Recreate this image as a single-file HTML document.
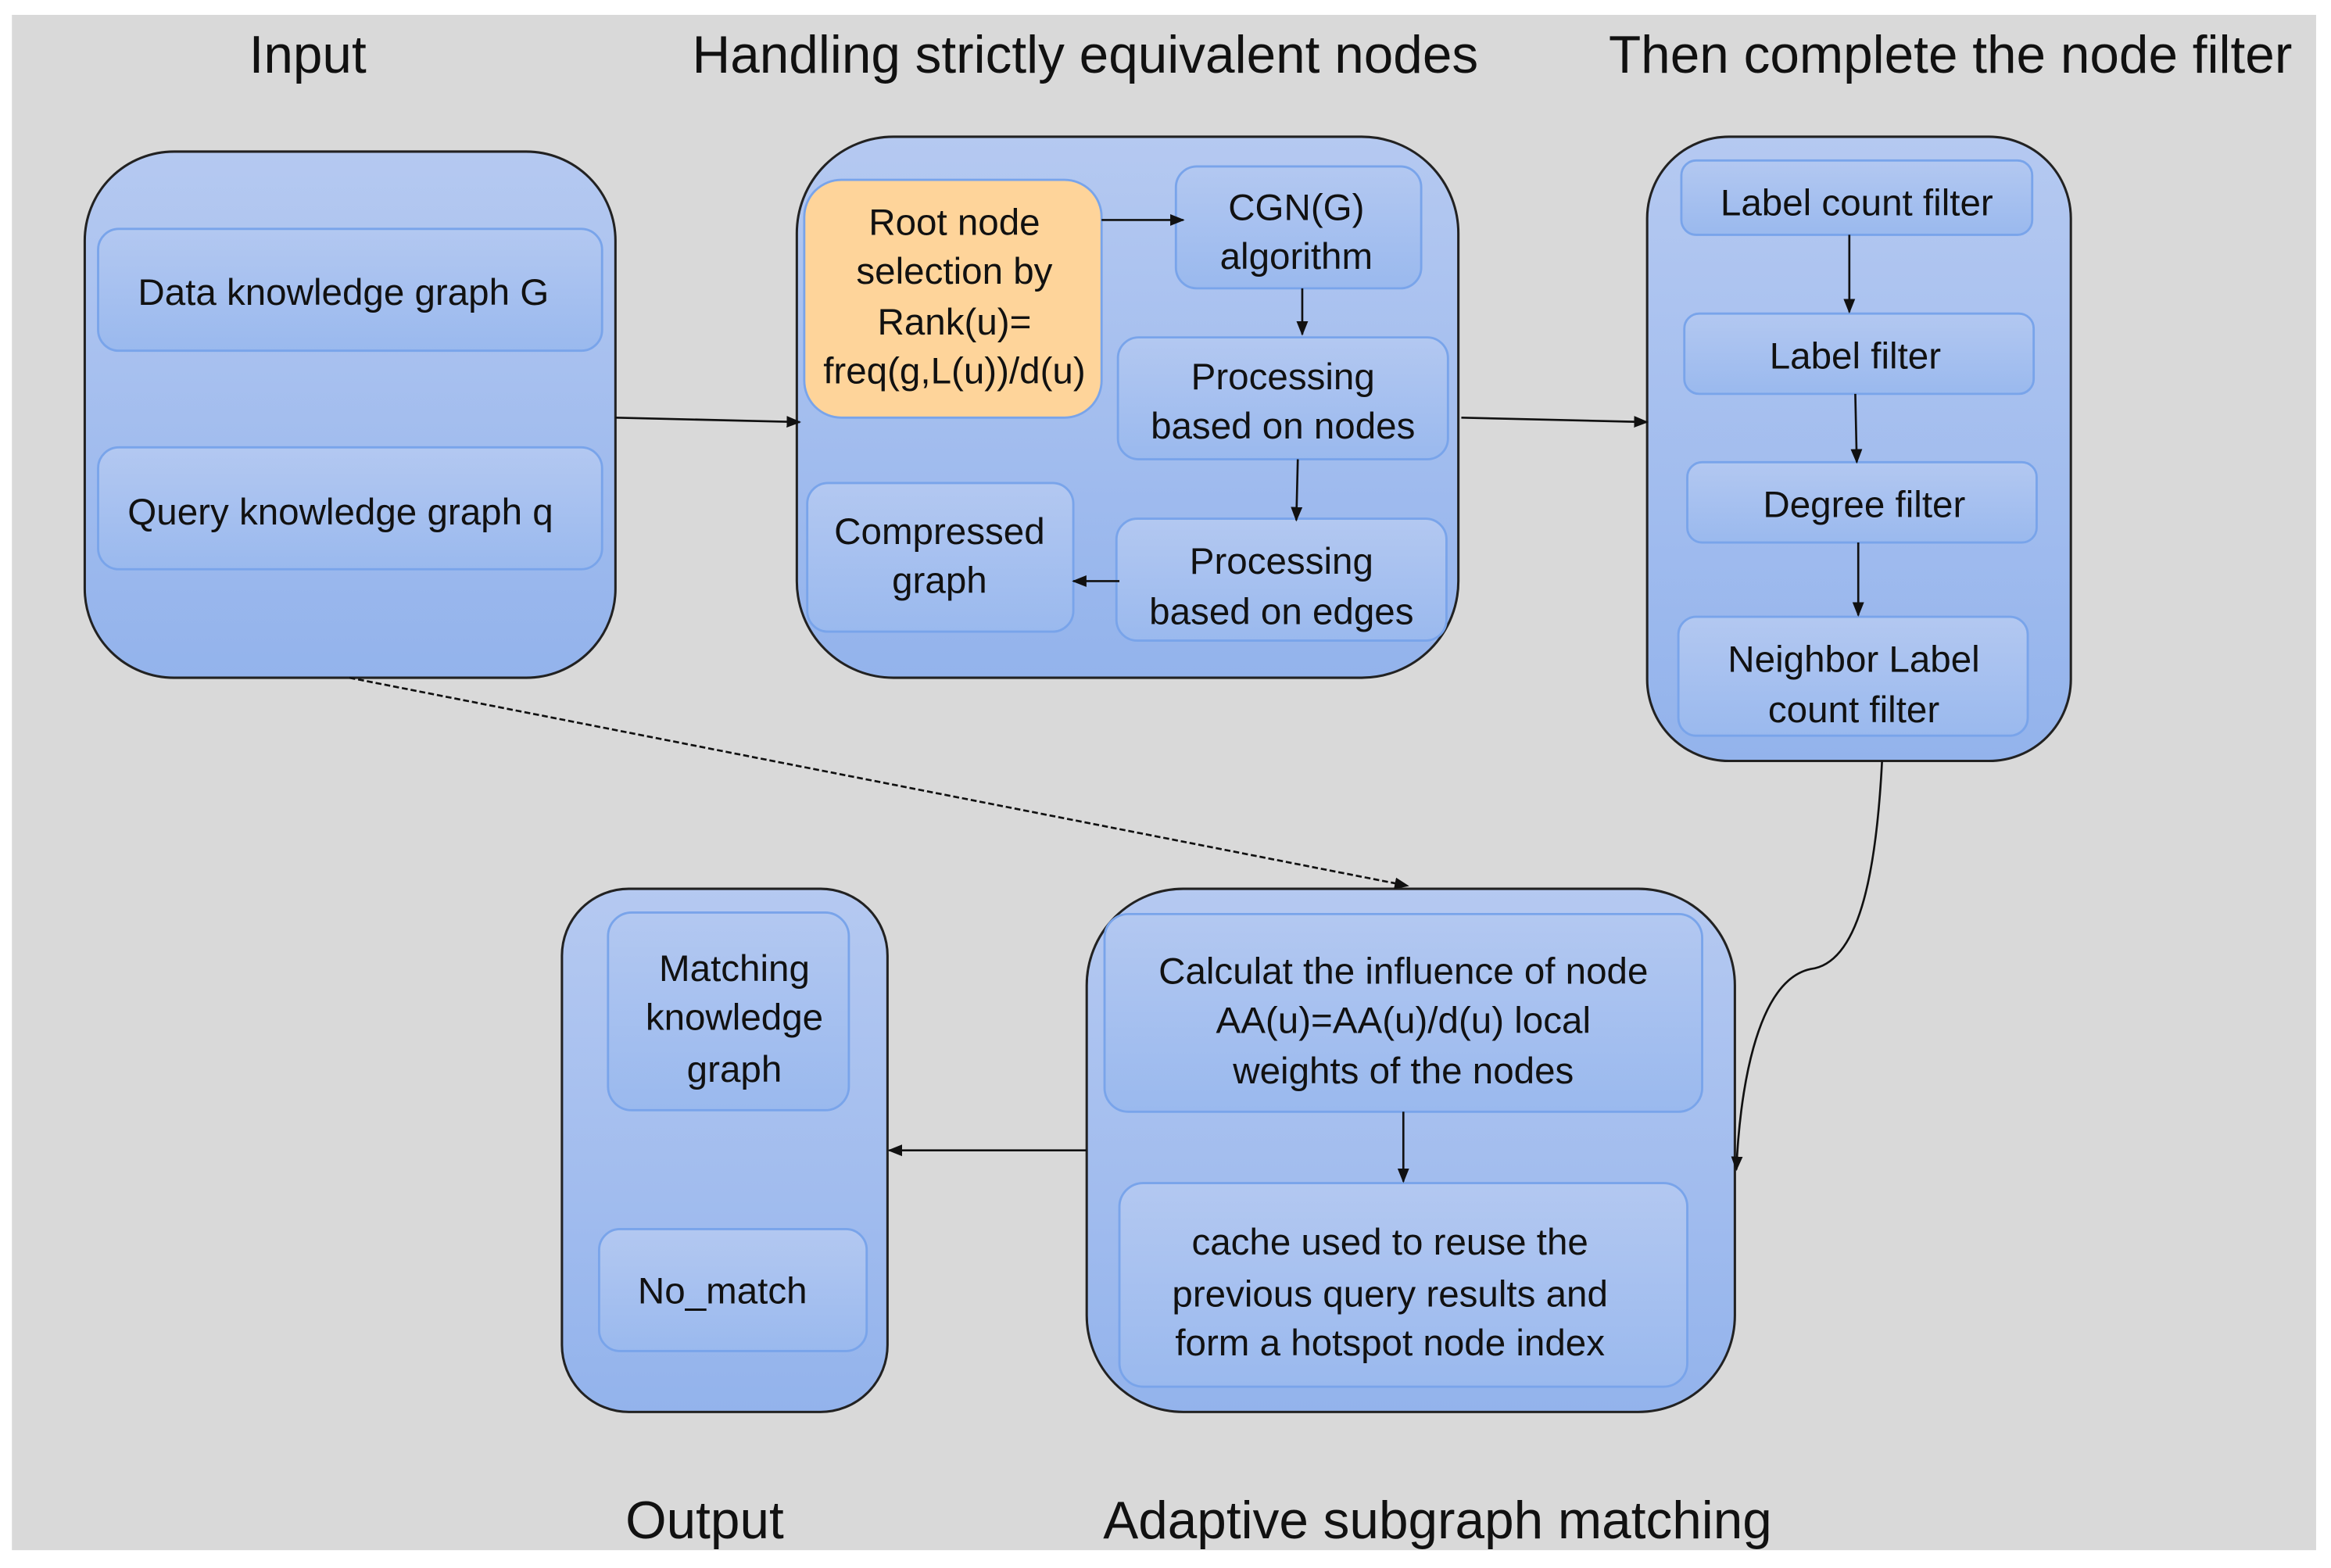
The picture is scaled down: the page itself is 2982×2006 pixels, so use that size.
<!DOCTYPE html>
<html><head><meta charset="utf-8"><style>
html,body{margin:0;padding:0;background:#fff;}
svg{display:block;}
text{font-family:"Liberation Sans",sans-serif;fill:#111;}
.t{font-size:35.5px;text-anchor:middle;}
.s{font-size:25px;text-anchor:middle;}
</style></head><body>
<svg width="2982" height="2006" viewBox="0 0 1568 1055" preserveAspectRatio="none" xmlns="http://www.w3.org/2000/svg">
<defs>
<linearGradient id="g" x1="0" y1="0" x2="0" y2="1"><stop offset="0" stop-color="#b5c9f1"/><stop offset="1" stop-color="#93b3ec"/></linearGradient>
<linearGradient id="gi" x1="0" y1="0" x2="0" y2="1"><stop offset="0" stop-color="#b3c8f1"/><stop offset="1" stop-color="#9ab9ee"/></linearGradient>
<marker id="a" viewBox="0 0 10 10" refX="9" refY="5" markerWidth="7" markerHeight="7" orient="auto"><path d="M0,1 L10,5 L0,9 z" fill="#111"/></marker>
</defs>
<rect x="8" y="10" width="1550" height="1033" fill="#d9d9d9"/>
<text class="t" x="207" y="49">Input</text>
<text class="t" x="730" y="49">Handling strictly equivalent nodes</text>
<text class="t" x="1312" y="49">Then complete the node filter</text>
<text class="t" x="474" y="1035">Output</text>
<text class="t" x="967" y="1035">Adaptive subgraph matching</text>

<g stroke="#222" stroke-width="1.6" fill="url(#g)">
<rect x="57" y="102" width="357" height="354" rx="60"/>
<rect x="536" y="92" width="445" height="364" rx="65"/>
<rect x="1108" y="92" width="285" height="420" rx="55"/>
<rect x="731" y="598" width="436" height="352" rx="65"/>
<rect x="378" y="598" width="219" height="352" rx="45"/>
</g>
<g stroke="#79a4ea" stroke-width="1.5" fill="url(#gi)">
<rect x="66" y="154" width="339" height="82" rx="14"/>
<rect x="66" y="301" width="339" height="82" rx="14"/>
<rect x="791" y="112" width="165" height="82" rx="14"/>
<rect x="752" y="227" width="222" height="82" rx="14"/>
<rect x="543" y="325" width="179" height="100" rx="14"/>
<rect x="751" y="349" width="222" height="82" rx="14"/>
<rect x="1131" y="108" width="236" height="50" rx="10"/>
<rect x="1133" y="211" width="235" height="54" rx="10"/>
<rect x="1135" y="311" width="235" height="54" rx="10"/>
<rect x="1129" y="415" width="235" height="80" rx="12"/>
<rect x="743" y="615" width="402" height="133" rx="16"/>
<rect x="753" y="796" width="382" height="137" rx="16"/>
<rect x="409" y="614" width="162" height="133" rx="16"/>
<rect x="403" y="827" width="180" height="82" rx="14"/>
</g>
<rect x="541" y="121" width="200" height="160" rx="25" fill="#fed49a" stroke="#79a4ea" stroke-width="1.5"/>

<g>
<text class="s" x="231" y="205">Data knowledge graph G</text>
<text class="s" x="229" y="353">Query knowledge graph q</text>
<text class="s" x="642" y="158">Root node</text>
<text class="s" x="642" y="191">selection by</text>
<text class="s" x="642" y="225">Rank(u)=</text>
<text class="s" x="642" y="258">freq(g,L(u))/d(u)</text>
<text class="s" x="872" y="148">CGN(G)</text>
<text class="s" x="872" y="181">algorithm</text>
<text class="s" x="863" y="262">Processing</text>
<text class="s" x="863" y="295">based on nodes</text>
<text class="s" x="632" y="366">Compressed</text>
<text class="s" x="632" y="399">graph</text>
<text class="s" x="862" y="386">Processing</text>
<text class="s" x="862" y="420">based on edges</text>
<text class="s" x="1249" y="145">Label count filter</text>
<text class="s" x="1248" y="248">Label  filter</text>
<text class="s" x="1254" y="348">Degree filter</text>
<text class="s" x="1247" y="452">Neighbor Label</text>
<text class="s" x="1247" y="486">count filter</text>
<text class="s" x="944" y="662">Calculat the  influence of  node</text>
<text class="s" x="944" y="695">AA(u)=AA(u)/d(u)  local</text>
<text class="s" x="944" y="729">weights of the nodes</text>
<text class="s" x="935" y="844">cache used to reuse the</text>
<text class="s" x="935" y="879">previous query results and</text>
<text class="s" x="935" y="912">form a hotspot node index</text>
<text class="s" x="494" y="660">Matching</text>
<text class="s" x="494" y="693">knowledge</text>
<text class="s" x="494" y="728">graph</text>
<text class="s" x="486" y="877">No_match</text>
</g>

<g stroke="#111" stroke-width="1.4" fill="none" marker-end="url(#a)">
<line x1="741" y1="148" x2="796" y2="148"/>
<line x1="876" y1="194" x2="876" y2="225"/>
<line x1="873" y1="309" x2="872" y2="350"/>
<line x1="753" y1="391" x2="722" y2="391"/>
<line x1="414" y1="281" x2="538" y2="284"/>
<line x1="983" y1="281" x2="1108" y2="284"/>
<line x1="1244" y1="158" x2="1244" y2="210"/>
<line x1="1248" y1="265" x2="1249" y2="311"/>
<line x1="1250" y1="365" x2="1250" y2="414"/>
<line x1="944" y1="748" x2="944" y2="795"/>
<line x1="731" y1="774" x2="598" y2="774"/>
<path d="M1266,512 C1262,590 1250,648 1218,652 C1180,660 1170,740 1168,787"/>
<line x1="235" y1="456" x2="947" y2="596" stroke-dasharray="4,2"/>
</g>
</svg>
</body></html>
